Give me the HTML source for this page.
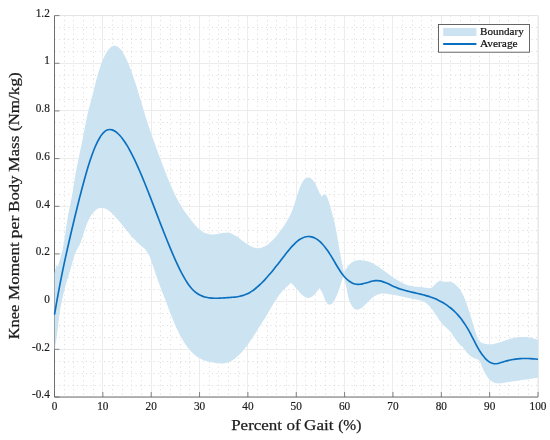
<!DOCTYPE html>
<html><head><meta charset="utf-8"><title>Knee Moment per Body Mass</title>
<style>
html,body{margin:0;padding:0;background:#fff;}
body{width:550px;height:440px;overflow:hidden;font-family:"Liberation Serif",serif;}
svg{display:block}
.mn{stroke:#dddddd;stroke-width:1;stroke-dasharray:1.1 3.4;}
.mj{stroke:#ececec;stroke-width:1;}
.tk{stroke:#666;stroke-width:0.8;}
.tl{font-family:"Liberation Serif",serif;font-size:12px;fill:#1c1c1c;stroke:#1c1c1c;stroke-width:0.2;}
.ax{font-family:"Liberation Serif",serif;font-size:15px;fill:#1c1c1c;stroke:#1c1c1c;stroke-width:0.25;}
.lg{font-family:"Liberation Serif",serif;font-size:10.8px;fill:#111;stroke:#111;stroke-width:0.2;}
</style></head><body>
<svg width="550" height="440" viewBox="0 0 550 440">
<rect x="0" y="0" width="550" height="440" fill="#ffffff"/>
<g shape-rendering="auto">
<line x1="64.50" y1="15.60" x2="64.50" y2="397.00" class="mn"/>
<line x1="73.50" y1="15.60" x2="73.50" y2="397.00" class="mn"/>
<line x1="83.50" y1="15.60" x2="83.50" y2="397.00" class="mn"/>
<line x1="93.50" y1="15.60" x2="93.50" y2="397.00" class="mn"/>
<line x1="112.50" y1="15.60" x2="112.50" y2="397.00" class="mn"/>
<line x1="122.50" y1="15.60" x2="122.50" y2="397.00" class="mn"/>
<line x1="131.50" y1="15.60" x2="131.50" y2="397.00" class="mn"/>
<line x1="141.50" y1="15.60" x2="141.50" y2="397.00" class="mn"/>
<line x1="160.50" y1="15.60" x2="160.50" y2="397.00" class="mn"/>
<line x1="170.50" y1="15.60" x2="170.50" y2="397.00" class="mn"/>
<line x1="180.50" y1="15.60" x2="180.50" y2="397.00" class="mn"/>
<line x1="189.50" y1="15.60" x2="189.50" y2="397.00" class="mn"/>
<line x1="209.50" y1="15.60" x2="209.50" y2="397.00" class="mn"/>
<line x1="218.50" y1="15.60" x2="218.50" y2="397.00" class="mn"/>
<line x1="228.50" y1="15.60" x2="228.50" y2="397.00" class="mn"/>
<line x1="238.50" y1="15.60" x2="238.50" y2="397.00" class="mn"/>
<line x1="257.50" y1="15.60" x2="257.50" y2="397.00" class="mn"/>
<line x1="267.50" y1="15.60" x2="267.50" y2="397.00" class="mn"/>
<line x1="276.50" y1="15.60" x2="276.50" y2="397.00" class="mn"/>
<line x1="286.50" y1="15.60" x2="286.50" y2="397.00" class="mn"/>
<line x1="305.50" y1="15.60" x2="305.50" y2="397.00" class="mn"/>
<line x1="315.50" y1="15.60" x2="315.50" y2="397.00" class="mn"/>
<line x1="325.50" y1="15.60" x2="325.50" y2="397.00" class="mn"/>
<line x1="334.50" y1="15.60" x2="334.50" y2="397.00" class="mn"/>
<line x1="354.50" y1="15.60" x2="354.50" y2="397.00" class="mn"/>
<line x1="363.50" y1="15.60" x2="363.50" y2="397.00" class="mn"/>
<line x1="373.50" y1="15.60" x2="373.50" y2="397.00" class="mn"/>
<line x1="383.50" y1="15.60" x2="383.50" y2="397.00" class="mn"/>
<line x1="402.50" y1="15.60" x2="402.50" y2="397.00" class="mn"/>
<line x1="412.50" y1="15.60" x2="412.50" y2="397.00" class="mn"/>
<line x1="421.50" y1="15.60" x2="421.50" y2="397.00" class="mn"/>
<line x1="431.50" y1="15.60" x2="431.50" y2="397.00" class="mn"/>
<line x1="450.50" y1="15.60" x2="450.50" y2="397.00" class="mn"/>
<line x1="460.50" y1="15.60" x2="460.50" y2="397.00" class="mn"/>
<line x1="470.50" y1="15.60" x2="470.50" y2="397.00" class="mn"/>
<line x1="479.50" y1="15.60" x2="479.50" y2="397.00" class="mn"/>
<line x1="499.50" y1="15.60" x2="499.50" y2="397.00" class="mn"/>
<line x1="508.50" y1="15.60" x2="508.50" y2="397.00" class="mn"/>
<line x1="518.50" y1="15.60" x2="518.50" y2="397.00" class="mn"/>
<line x1="528.50" y1="15.60" x2="528.50" y2="397.00" class="mn"/>
<line x1="54.50" y1="385.50" x2="538.00" y2="385.50" class="mn"/>
<line x1="54.50" y1="373.50" x2="538.00" y2="373.50" class="mn"/>
<line x1="54.50" y1="361.50" x2="538.00" y2="361.50" class="mn"/>
<line x1="54.50" y1="337.50" x2="538.00" y2="337.50" class="mn"/>
<line x1="54.50" y1="325.50" x2="538.00" y2="325.50" class="mn"/>
<line x1="54.50" y1="313.50" x2="538.00" y2="313.50" class="mn"/>
<line x1="54.50" y1="289.50" x2="538.00" y2="289.50" class="mn"/>
<line x1="54.50" y1="277.50" x2="538.00" y2="277.50" class="mn"/>
<line x1="54.50" y1="265.50" x2="538.00" y2="265.50" class="mn"/>
<line x1="54.50" y1="242.50" x2="538.00" y2="242.50" class="mn"/>
<line x1="54.50" y1="230.50" x2="538.00" y2="230.50" class="mn"/>
<line x1="54.50" y1="218.50" x2="538.00" y2="218.50" class="mn"/>
<line x1="54.50" y1="194.50" x2="538.00" y2="194.50" class="mn"/>
<line x1="54.50" y1="182.50" x2="538.00" y2="182.50" class="mn"/>
<line x1="54.50" y1="170.50" x2="538.00" y2="170.50" class="mn"/>
<line x1="54.50" y1="146.50" x2="538.00" y2="146.50" class="mn"/>
<line x1="54.50" y1="134.50" x2="538.00" y2="134.50" class="mn"/>
<line x1="54.50" y1="122.50" x2="538.00" y2="122.50" class="mn"/>
<line x1="54.50" y1="99.50" x2="538.00" y2="99.50" class="mn"/>
<line x1="54.50" y1="87.50" x2="538.00" y2="87.50" class="mn"/>
<line x1="54.50" y1="75.50" x2="538.00" y2="75.50" class="mn"/>
<line x1="54.50" y1="51.50" x2="538.00" y2="51.50" class="mn"/>
<line x1="54.50" y1="39.50" x2="538.00" y2="39.50" class="mn"/>
<line x1="54.50" y1="27.50" x2="538.00" y2="27.50" class="mn"/>
<line x1="102.50" y1="15.60" x2="102.50" y2="397.00" class="mj"/>
<line x1="151.50" y1="15.60" x2="151.50" y2="397.00" class="mj"/>
<line x1="199.50" y1="15.60" x2="199.50" y2="397.00" class="mj"/>
<line x1="247.50" y1="15.60" x2="247.50" y2="397.00" class="mj"/>
<line x1="296.50" y1="15.60" x2="296.50" y2="397.00" class="mj"/>
<line x1="344.50" y1="15.60" x2="344.50" y2="397.00" class="mj"/>
<line x1="392.50" y1="15.60" x2="392.50" y2="397.00" class="mj"/>
<line x1="441.50" y1="15.60" x2="441.50" y2="397.00" class="mj"/>
<line x1="489.50" y1="15.60" x2="489.50" y2="397.00" class="mj"/>
<line x1="538.50" y1="15.60" x2="538.50" y2="397.00" class="mj"/>
<line x1="54.50" y1="397.50" x2="538.00" y2="397.50" class="mj"/>
<line x1="54.50" y1="349.50" x2="538.00" y2="349.50" class="mj"/>
<line x1="54.50" y1="301.50" x2="538.00" y2="301.50" class="mj"/>
<line x1="54.50" y1="253.50" x2="538.00" y2="253.50" class="mj"/>
<line x1="54.50" y1="206.50" x2="538.00" y2="206.50" class="mj"/>
<line x1="54.50" y1="158.50" x2="538.00" y2="158.50" class="mj"/>
<line x1="54.50" y1="110.50" x2="538.00" y2="110.50" class="mj"/>
<line x1="54.50" y1="63.50" x2="538.00" y2="63.50" class="mj"/>
<line x1="54.50" y1="15.50" x2="538.00" y2="15.50" class="mj"/>
</g>
<line x1="54.5" y1="15.6" x2="538.0" y2="15.6" stroke="#e4e4e4" stroke-width="1"/>
<line x1="538.0" y1="15.6" x2="538.0" y2="397.0" stroke="#e4e4e4" stroke-width="1"/>
<line x1="54.5" y1="15.6" x2="54.5" y2="397.0" stroke="#606060" stroke-width="0.9"/>
<line x1="54.5" y1="397.0" x2="538.0" y2="397.0" stroke="#606060" stroke-width="0.9"/>
<line x1="54.50" y1="397.00" x2="54.50" y2="392.00" class="tk"/>
<text transform="translate(54.50 409.9) scale(0.94 1)" text-anchor="middle" class="tl">0</text>
<line x1="102.85" y1="397.00" x2="102.85" y2="392.00" class="tk"/>
<text transform="translate(102.85 409.9) scale(0.94 1)" text-anchor="middle" class="tl">10</text>
<line x1="151.20" y1="397.00" x2="151.20" y2="392.00" class="tk"/>
<text transform="translate(151.20 409.9) scale(0.94 1)" text-anchor="middle" class="tl">20</text>
<line x1="199.55" y1="397.00" x2="199.55" y2="392.00" class="tk"/>
<text transform="translate(199.55 409.9) scale(0.94 1)" text-anchor="middle" class="tl">30</text>
<line x1="247.90" y1="397.00" x2="247.90" y2="392.00" class="tk"/>
<text transform="translate(247.90 409.9) scale(0.94 1)" text-anchor="middle" class="tl">40</text>
<line x1="296.25" y1="397.00" x2="296.25" y2="392.00" class="tk"/>
<text transform="translate(296.25 409.9) scale(0.94 1)" text-anchor="middle" class="tl">50</text>
<line x1="344.60" y1="397.00" x2="344.60" y2="392.00" class="tk"/>
<text transform="translate(344.60 409.9) scale(0.94 1)" text-anchor="middle" class="tl">60</text>
<line x1="392.95" y1="397.00" x2="392.95" y2="392.00" class="tk"/>
<text transform="translate(392.95 409.9) scale(0.94 1)" text-anchor="middle" class="tl">70</text>
<line x1="441.30" y1="397.00" x2="441.30" y2="392.00" class="tk"/>
<text transform="translate(441.30 409.9) scale(0.94 1)" text-anchor="middle" class="tl">80</text>
<line x1="489.65" y1="397.00" x2="489.65" y2="392.00" class="tk"/>
<text transform="translate(489.65 409.9) scale(0.94 1)" text-anchor="middle" class="tl">90</text>
<line x1="538.00" y1="397.00" x2="538.00" y2="392.00" class="tk"/>
<text transform="translate(538.00 409.9) scale(0.94 1)" text-anchor="middle" class="tl">100</text>
<line x1="54.50" y1="397.00" x2="59.50" y2="397.00" class="tk"/>
<text transform="translate(49.8 398.20) scale(0.94 1)" text-anchor="end" class="tl">-0.4</text>
<line x1="54.50" y1="349.32" x2="59.50" y2="349.32" class="tk"/>
<text transform="translate(49.8 350.52) scale(0.94 1)" text-anchor="end" class="tl">-0.2</text>
<line x1="54.50" y1="301.65" x2="59.50" y2="301.65" class="tk"/>
<text transform="translate(49.8 302.85) scale(0.94 1)" text-anchor="end" class="tl">0</text>
<line x1="54.50" y1="253.97" x2="59.50" y2="253.97" class="tk"/>
<text transform="translate(49.8 255.17) scale(0.94 1)" text-anchor="end" class="tl">0.2</text>
<line x1="54.50" y1="206.30" x2="59.50" y2="206.30" class="tk"/>
<text transform="translate(49.8 207.50) scale(0.94 1)" text-anchor="end" class="tl">0.4</text>
<line x1="54.50" y1="158.62" x2="59.50" y2="158.62" class="tk"/>
<text transform="translate(49.8 159.82) scale(0.94 1)" text-anchor="end" class="tl">0.6</text>
<line x1="54.50" y1="110.95" x2="59.50" y2="110.95" class="tk"/>
<text transform="translate(49.8 112.15) scale(0.94 1)" text-anchor="end" class="tl">0.8</text>
<line x1="54.50" y1="63.27" x2="59.50" y2="63.27" class="tk"/>
<text transform="translate(49.8 64.47) scale(0.94 1)" text-anchor="end" class="tl">1</text>
<line x1="54.50" y1="15.60" x2="59.50" y2="15.60" class="tk"/>
<text transform="translate(49.8 16.80) scale(0.94 1)" text-anchor="end" class="tl">1.2</text>
<path d="M54.50 273.50 C54.67 272.67 55.12 270.00 55.50 268.50 C55.88 267.00 56.58 265.17 56.80 264.50 C56.95 264.88 57.55 266.42 57.70 266.80 C58.12 265.40 59.37 261.30 60.21 258.38 C61.05 255.47 61.89 253.40 62.72 249.31 C63.56 245.22 64.40 239.22 65.24 233.85 C66.07 228.48 66.91 221.93 67.75 217.07 C68.59 212.22 69.42 209.02 70.26 204.72 C71.10 200.42 71.94 196.21 72.77 191.30 C73.61 186.38 74.45 180.08 75.29 175.22 C76.12 170.36 76.96 166.30 77.80 162.13 C78.64 157.96 79.47 154.24 80.31 150.21 C81.15 146.19 81.99 142.15 82.82 137.97 C83.66 133.78 84.50 129.23 85.34 125.09 C86.17 120.94 87.01 116.75 87.85 113.09 C88.69 109.43 89.52 106.35 90.36 103.13 C91.20 99.91 92.04 97.04 92.87 93.80 C93.71 90.56 94.55 86.93 95.39 83.68 C96.22 80.43 97.06 77.22 97.90 74.32 C98.74 71.42 99.57 68.74 100.41 66.28 C101.25 63.83 102.09 61.59 102.92 59.58 C103.76 57.56 104.60 55.77 105.44 54.20 C106.27 52.63 107.11 51.27 107.95 50.14 C108.79 49.00 109.62 48.09 110.46 47.39 C111.30 46.69 112.13 46.20 112.97 45.93 C113.81 45.67 114.65 45.61 115.48 45.77 C116.32 45.93 117.16 46.31 118.00 46.90 C118.83 47.48 119.67 48.28 120.51 49.26 C121.35 50.24 122.18 51.43 123.02 52.78 C123.86 54.12 124.70 55.65 125.53 57.32 C126.37 58.99 127.21 60.83 128.05 62.79 C128.88 64.74 129.72 66.85 130.56 69.06 C131.40 71.27 132.23 73.61 133.07 76.03 C133.91 78.46 134.75 81.00 135.58 83.60 C136.42 86.21 137.26 88.92 138.10 91.67 C138.93 94.42 139.77 97.28 140.61 100.10 C141.45 102.92 142.28 105.80 143.12 108.58 C143.96 111.35 144.80 114.07 145.63 116.73 C146.47 119.38 147.31 121.96 148.15 124.50 C148.98 127.04 149.82 129.51 150.66 131.96 C151.50 134.40 152.33 136.80 153.17 139.17 C154.01 141.54 154.85 143.87 155.68 146.20 C156.52 148.52 157.36 150.81 158.20 153.10 C159.03 155.39 159.87 157.66 160.71 159.91 C161.55 162.16 162.38 164.39 163.22 166.59 C164.06 168.78 164.89 170.95 165.73 173.08 C166.57 175.20 167.41 177.30 168.24 179.33 C169.08 181.37 169.92 183.37 170.76 185.31 C171.59 187.24 172.43 189.13 173.27 190.95 C174.11 192.77 174.94 194.53 175.78 196.21 C176.62 197.89 177.46 199.51 178.29 201.04 C179.13 202.58 179.97 204.03 180.81 205.43 C181.64 206.82 182.48 208.14 183.32 209.43 C184.16 210.71 184.99 211.93 185.83 213.12 C186.67 214.31 187.51 215.46 188.34 216.59 C189.18 217.72 190.02 218.83 190.86 219.91 C191.69 220.99 192.53 222.06 193.37 223.07 C194.21 224.07 195.04 225.05 195.88 225.96 C196.72 226.86 197.56 227.71 198.39 228.48 C199.23 229.24 200.07 229.93 200.91 230.54 C201.74 231.15 202.58 231.67 203.42 232.13 C204.26 232.59 205.09 232.97 205.93 233.29 C206.77 233.60 207.61 233.85 208.44 234.04 C209.28 234.23 210.12 234.35 210.96 234.42 C211.79 234.49 212.63 234.49 213.47 234.45 C214.31 234.42 215.14 234.31 215.98 234.19 C216.82 234.07 217.65 233.90 218.49 233.74 C219.33 233.58 220.17 233.39 221.00 233.24 C221.84 233.09 222.68 232.93 223.52 232.83 C224.35 232.73 225.19 232.64 226.03 232.65 C226.87 232.65 227.70 232.69 228.54 232.83 C229.38 232.98 230.22 233.21 231.05 233.51 C231.89 233.81 232.73 234.21 233.57 234.64 C234.40 235.08 235.24 235.58 236.08 236.12 C236.92 236.65 237.75 237.24 238.59 237.84 C239.43 238.44 240.27 239.08 241.10 239.71 C241.94 240.33 242.78 240.99 243.62 241.61 C244.45 242.23 245.29 242.87 246.13 243.45 C246.97 244.04 247.80 244.61 248.64 245.12 C249.48 245.64 250.32 246.12 251.15 246.53 C251.99 246.93 252.83 247.29 253.67 247.56 C254.50 247.82 255.34 248.01 256.18 248.11 C257.02 248.21 257.85 248.22 258.69 248.15 C259.53 248.08 260.37 247.92 261.20 247.69 C262.04 247.47 262.88 247.15 263.72 246.78 C264.55 246.40 265.39 245.94 266.23 245.42 C267.07 244.90 267.90 244.30 268.74 243.65 C269.58 243.00 270.41 242.28 271.25 241.50 C272.09 240.72 272.93 239.88 273.76 238.99 C274.60 238.10 275.44 237.15 276.28 236.16 C277.11 235.16 277.95 234.11 278.79 233.02 C279.63 231.92 280.46 230.78 281.30 229.60 C282.14 228.42 282.98 227.20 283.81 225.94 C284.65 224.68 285.49 223.41 286.33 222.04 C287.16 220.67 288.00 219.29 288.84 217.70 C289.68 216.11 290.51 214.44 291.35 212.49 C292.19 210.53 293.03 208.40 293.86 205.97 C294.70 203.54 295.54 200.59 296.38 197.93 C297.21 195.26 298.05 192.29 298.89 189.96 C299.73 187.63 300.56 185.60 301.40 183.93 C302.24 182.26 303.08 180.97 303.91 179.96 C304.75 178.95 305.59 178.28 306.43 177.88 C307.26 177.47 308.10 177.38 308.94 177.52 C309.78 177.67 310.61 178.08 311.45 178.74 C312.29 179.40 313.13 180.29 313.96 181.47 C314.80 182.64 315.64 184.08 316.48 185.80 C317.31 187.51 318.15 189.98 318.99 191.76 C319.83 193.54 321.08 195.71 321.50 196.50 C321.92 196.18 323.17 194.62 324.00 194.55 C324.83 194.48 325.67 194.79 326.50 196.07 C327.33 197.35 328.17 199.71 329.00 202.23 C329.83 204.76 330.67 208.24 331.50 211.25 C332.33 214.26 333.17 216.77 334.00 220.28 C334.83 223.78 335.67 227.83 336.50 232.29 C337.33 236.74 338.17 242.28 339.00 246.99 C339.83 251.71 340.67 256.33 341.50 260.58 C342.33 264.83 343.58 270.51 344.00 272.50 C344.42 271.79 345.67 269.49 346.50 268.25 C347.33 267.01 348.17 265.97 349.00 265.06 C349.83 264.15 350.67 263.41 351.50 262.78 C352.33 262.16 353.17 261.68 354.00 261.29 C354.83 260.91 355.67 260.65 356.50 260.46 C357.33 260.26 358.17 260.18 359.00 260.13 C359.83 260.09 360.67 260.13 361.50 260.19 C362.33 260.25 363.17 260.37 364.00 260.51 C364.83 260.65 365.67 260.83 366.50 261.04 C367.33 261.26 368.17 261.51 369.00 261.80 C369.83 262.09 370.67 262.41 371.50 262.78 C372.33 263.14 373.17 263.54 374.00 263.98 C374.83 264.41 375.67 264.89 376.50 265.40 C377.33 265.91 378.17 266.47 379.00 267.04 C379.83 267.62 380.67 268.23 381.50 268.85 C382.33 269.46 383.17 270.10 384.00 270.73 C384.83 271.36 385.67 272.00 386.50 272.62 C387.33 273.24 388.17 273.87 389.00 274.47 C389.83 275.08 390.67 275.68 391.50 276.26 C392.33 276.85 393.17 277.42 394.00 277.98 C394.83 278.53 395.67 279.07 396.50 279.59 C397.33 280.11 398.17 280.61 399.00 281.09 C399.83 281.56 400.67 282.02 401.50 282.44 C402.33 282.87 403.17 283.27 404.00 283.65 C404.83 284.02 405.67 284.36 406.50 284.67 C407.33 284.98 408.17 285.26 409.00 285.50 C409.83 285.74 410.67 285.94 411.50 286.12 C412.33 286.29 413.17 286.43 414.00 286.55 C414.83 286.67 415.67 286.76 416.50 286.85 C417.33 286.93 418.17 287.00 419.00 287.07 C419.83 287.14 420.67 287.19 421.50 287.26 C422.33 287.34 423.17 287.41 424.00 287.50 C424.83 287.59 425.67 287.69 426.50 287.83 C427.33 287.96 428.58 288.22 429.00 288.30 C429.50 288.17 431.08 288.05 432.00 287.50 C432.92 286.95 433.67 285.83 434.50 285.00 C435.33 284.17 436.08 283.25 437.00 282.50 C437.92 281.75 439.50 280.83 440.00 280.50 C440.43 280.69 441.71 281.40 442.56 281.62 C443.42 281.85 444.27 281.82 445.12 281.84 C445.98 281.86 446.83 281.72 447.69 281.72 C448.54 281.73 449.40 281.69 450.25 281.86 C451.10 282.02 451.96 282.30 452.81 282.74 C453.67 283.17 454.52 283.75 455.38 284.47 C456.23 285.18 457.08 286.02 457.94 287.03 C458.79 288.04 459.65 289.17 460.50 290.52 C461.35 291.87 462.21 293.37 463.06 295.11 C463.92 296.85 464.77 298.78 465.62 300.96 C466.48 303.13 467.33 305.59 468.19 308.16 C469.04 310.72 469.90 313.54 470.75 316.35 C471.60 319.16 472.46 322.18 473.31 325.01 C474.17 327.83 475.02 330.87 475.88 333.32 C476.73 335.77 477.58 338.19 478.44 339.72 C479.29 341.25 480.57 342.04 481.00 342.50 C481.43 342.66 482.73 343.22 483.59 343.48 C484.45 343.74 485.32 343.94 486.18 344.08 C487.05 344.22 487.91 344.29 488.77 344.32 C489.64 344.35 490.50 344.32 491.36 344.25 C492.23 344.18 493.09 344.06 493.95 343.91 C494.82 343.75 495.68 343.54 496.55 343.32 C497.41 343.10 498.27 342.83 499.14 342.56 C500.00 342.28 500.86 341.98 501.73 341.68 C502.59 341.38 503.45 341.07 504.32 340.76 C505.18 340.46 506.05 340.15 506.91 339.86 C507.77 339.57 508.64 339.30 509.50 339.04 C510.36 338.79 511.23 338.55 512.09 338.34 C512.95 338.13 513.82 337.94 514.68 337.77 C515.55 337.60 516.41 337.45 517.27 337.33 C518.14 337.21 519.00 337.12 519.86 337.05 C520.73 336.98 521.59 336.94 522.45 336.92 C523.32 336.91 524.18 336.92 525.05 336.97 C525.91 337.01 526.77 337.09 527.64 337.19 C528.50 337.30 529.36 337.44 530.23 337.61 C531.09 337.78 531.95 337.98 532.82 338.22 C533.68 338.46 534.55 338.74 535.41 339.05 C536.27 339.36 537.57 339.93 538.00 340.10 L538.00 377.70 C537.58 377.77 536.33 377.97 535.49 378.10 C534.66 378.22 533.82 378.35 532.98 378.47 C532.15 378.59 531.31 378.71 530.47 378.83 C529.64 378.95 528.80 379.06 527.97 379.18 C527.13 379.29 526.29 379.41 525.46 379.52 C524.62 379.63 523.78 379.75 522.95 379.86 C522.11 379.97 521.28 380.09 520.44 380.20 C519.60 380.32 518.77 380.43 517.93 380.55 C517.09 380.67 516.26 380.79 515.42 380.91 C514.59 381.03 513.75 381.16 512.91 381.29 C512.08 381.42 511.24 381.55 510.40 381.68 C509.57 381.82 508.73 381.96 507.90 382.10 C507.06 382.25 506.22 382.40 505.39 382.55 C504.55 382.70 503.71 382.88 502.88 383.02 C502.04 383.15 501.21 383.30 500.37 383.37 C499.53 383.44 498.70 383.50 497.86 383.45 C497.02 383.40 496.19 383.31 495.35 383.08 C494.52 382.85 493.68 382.55 492.84 382.09 C492.01 381.63 491.17 381.07 490.33 380.32 C489.50 379.57 488.66 378.69 487.83 377.60 C486.99 376.50 486.15 375.25 485.32 373.75 C484.48 372.25 483.64 370.56 482.81 368.60 C481.97 366.65 480.72 363.10 480.30 362.00 C479.88 361.59 478.61 360.13 477.77 359.55 C476.93 358.98 476.09 358.89 475.24 358.54 C474.40 358.18 473.56 357.88 472.72 357.41 C471.87 356.94 471.03 356.39 470.19 355.72 C469.35 355.05 468.50 354.28 467.66 353.38 C466.82 352.47 465.98 351.35 465.13 350.30 C464.29 349.25 463.45 348.00 462.61 347.07 C461.76 346.14 460.92 345.56 460.08 344.72 C459.24 343.88 458.39 343.07 457.55 342.03 C456.71 340.98 455.86 339.69 455.02 338.46 C454.18 337.23 453.34 335.85 452.49 334.65 C451.65 333.45 450.81 332.25 449.97 331.27 C449.12 330.28 448.28 329.51 447.44 328.72 C446.60 327.93 445.75 327.32 444.91 326.53 C444.07 325.74 443.23 324.96 442.38 323.99 C441.54 323.03 440.70 321.90 439.86 320.74 C439.01 319.58 438.17 318.28 437.33 317.03 C436.49 315.77 435.64 314.44 434.80 313.20 C433.96 311.97 433.11 310.72 432.27 309.60 C431.43 308.48 430.59 307.41 429.74 306.49 C428.90 305.57 428.06 304.76 427.22 304.06 C426.37 303.37 425.53 302.80 424.69 302.31 C423.85 301.81 423.00 301.42 422.16 301.07 C421.32 300.73 420.48 300.47 419.63 300.23 C418.79 299.99 417.95 299.82 417.11 299.63 C416.26 299.45 415.42 299.30 414.58 299.14 C413.74 298.98 412.89 298.82 412.05 298.65 C411.21 298.48 410.36 298.32 409.52 298.15 C408.68 297.98 407.84 297.81 406.99 297.64 C406.15 297.47 405.31 297.30 404.47 297.13 C403.62 296.96 402.78 296.79 401.94 296.62 C401.10 296.45 400.25 296.27 399.41 296.10 C398.57 295.93 397.73 295.76 396.88 295.60 C396.04 295.43 395.20 295.26 394.36 295.10 C393.51 294.93 392.67 294.77 391.83 294.60 C390.99 294.44 390.14 294.28 389.30 294.13 C388.46 293.98 387.61 293.82 386.77 293.71 C385.93 293.60 385.09 293.50 384.24 293.47 C383.40 293.44 382.56 293.45 381.72 293.55 C380.87 293.65 380.03 293.81 379.19 294.07 C378.35 294.33 377.50 294.68 376.66 295.10 C375.82 295.52 374.98 296.03 374.13 296.59 C373.29 297.15 372.45 297.79 371.61 298.48 C370.76 299.17 369.92 299.93 369.08 300.72 C368.24 301.51 367.39 302.39 366.55 303.23 C365.71 304.07 364.86 304.99 364.02 305.77 C363.18 306.56 362.34 307.35 361.49 307.95 C360.65 308.55 359.81 309.08 358.97 309.36 C358.12 309.63 357.28 309.78 356.44 309.60 C355.60 309.42 354.75 309.05 353.91 308.28 C353.07 307.51 352.23 306.50 351.38 304.99 C350.54 303.48 349.70 302.15 348.86 299.24 C348.01 296.32 347.17 291.65 346.33 287.53 C345.49 283.40 344.22 276.67 343.80 274.50 C343.36 275.94 342.04 280.37 341.16 283.12 C340.27 285.87 339.39 288.59 338.51 291.00 C337.63 293.41 336.75 295.70 335.87 297.58 C334.99 299.46 334.10 301.12 333.22 302.29 C332.34 303.47 331.46 304.31 330.58 304.61 C329.70 304.91 328.81 304.80 327.93 304.10 C327.05 303.40 326.17 302.14 325.29 300.39 C324.41 298.64 323.53 295.69 322.64 293.62 C321.76 291.56 320.44 288.94 320.00 288.00 C319.56 288.49 318.24 289.88 317.36 290.91 C316.48 291.94 315.61 293.23 314.73 294.18 C313.85 295.12 312.97 295.97 312.09 296.57 C311.21 297.18 310.33 297.63 309.45 297.82 C308.58 298.01 307.70 297.95 306.82 297.71 C305.94 297.48 305.06 297.00 304.18 296.42 C303.30 295.85 302.42 295.07 301.55 294.25 C300.67 293.43 299.79 292.46 298.91 291.50 C298.03 290.53 297.15 289.47 296.27 288.47 C295.39 287.46 294.52 286.41 293.64 285.47 C292.76 284.52 291.44 283.24 291.00 282.80 C290.58 283.19 289.32 284.35 288.49 285.14 C287.65 285.92 286.81 286.70 285.97 287.51 C285.13 288.33 284.29 289.15 283.46 290.04 C282.62 290.92 281.78 291.83 280.94 292.82 C280.10 293.81 279.26 294.84 278.43 295.97 C277.59 297.09 276.75 298.29 275.91 299.58 C275.07 300.87 274.23 302.28 273.40 303.71 C272.56 305.13 271.72 306.64 270.88 308.11 C270.04 309.57 269.20 311.08 268.37 312.50 C267.53 313.93 266.69 315.31 265.85 316.66 C265.01 318.01 264.17 319.30 263.34 320.61 C262.50 321.93 261.66 323.21 260.82 324.53 C259.98 325.84 259.14 327.18 258.31 328.51 C257.47 329.84 256.63 331.18 255.79 332.51 C254.95 333.84 254.11 335.17 253.28 336.47 C252.44 337.77 251.60 339.06 250.76 340.31 C249.92 341.56 249.09 342.78 248.25 343.96 C247.41 345.13 246.57 346.27 245.73 347.35 C244.89 348.44 244.06 349.47 243.22 350.46 C242.38 351.44 241.54 352.38 240.70 353.26 C239.86 354.15 239.03 354.98 238.19 355.75 C237.35 356.53 236.51 357.26 235.67 357.92 C234.83 358.59 234.00 359.20 233.16 359.75 C232.32 360.30 231.48 360.80 230.64 361.23 C229.80 361.66 228.97 362.04 228.13 362.35 C227.29 362.66 226.45 362.91 225.61 363.10 C224.77 363.28 223.94 363.40 223.10 363.47 C222.26 363.54 221.42 363.54 220.58 363.51 C219.74 363.49 218.91 363.41 218.07 363.32 C217.23 363.23 216.39 363.10 215.55 362.98 C214.71 362.85 213.88 362.71 213.04 362.57 C212.20 362.42 211.36 362.28 210.52 362.11 C209.69 361.95 208.85 361.77 208.01 361.56 C207.17 361.36 206.33 361.13 205.49 360.86 C204.66 360.59 203.82 360.30 202.98 359.95 C202.14 359.60 201.30 359.21 200.46 358.77 C199.63 358.32 198.79 357.83 197.95 357.28 C197.11 356.72 196.27 356.12 195.43 355.45 C194.60 354.78 193.76 354.05 192.92 353.25 C192.08 352.45 191.24 351.59 190.40 350.66 C189.57 349.73 188.73 348.73 187.89 347.65 C187.05 346.56 186.21 345.41 185.37 344.18 C184.54 342.94 183.70 341.63 182.86 340.23 C182.02 338.83 181.18 337.35 180.34 335.79 C179.51 334.22 178.67 332.58 177.83 330.85 C176.99 329.12 176.15 327.30 175.31 325.40 C174.48 323.51 173.64 321.53 172.80 319.46 C171.96 317.40 171.12 315.23 170.29 313.01 C169.45 310.79 168.61 308.41 167.77 306.15 C166.93 303.89 166.09 301.61 165.26 299.45 C164.42 297.28 163.58 295.29 162.74 293.16 C161.90 291.03 161.06 288.91 160.23 286.67 C159.39 284.42 158.55 282.08 157.71 279.71 C156.87 277.34 156.03 274.88 155.20 272.44 C154.36 269.99 153.52 267.43 152.68 265.02 C151.84 262.61 151.00 260.03 150.17 257.97 C149.33 255.90 148.49 254.08 147.65 252.63 C146.81 251.18 145.97 250.21 145.14 249.27 C144.30 248.33 143.46 247.72 142.62 246.99 C141.78 246.27 140.94 245.64 140.11 244.91 C139.27 244.18 138.43 243.41 137.59 242.60 C136.75 241.80 135.91 240.96 135.08 240.09 C134.24 239.23 133.40 238.33 132.56 237.41 C131.72 236.49 130.89 235.54 130.05 234.57 C129.21 233.61 128.37 232.62 127.53 231.62 C126.69 230.62 125.86 229.60 125.02 228.58 C124.18 227.55 123.34 226.51 122.50 225.47 C121.66 224.44 120.83 223.38 119.99 222.36 C119.15 221.33 118.31 220.30 117.47 219.32 C116.63 218.33 115.80 217.36 114.96 216.45 C114.12 215.54 113.28 214.65 112.44 213.84 C111.60 213.03 110.77 212.27 109.93 211.60 C109.09 210.92 108.25 210.31 107.41 209.80 C106.57 209.30 105.74 208.86 104.90 208.56 C104.06 208.25 103.22 208.03 102.38 207.95 C101.54 207.87 100.71 207.90 99.87 208.08 C99.03 208.26 98.19 208.57 97.35 209.04 C96.51 209.52 95.68 210.13 94.84 210.93 C94.00 211.73 93.16 212.68 92.32 213.83 C91.49 214.99 90.65 216.31 89.81 217.85 C88.97 219.39 88.13 221.10 87.29 223.09 C86.46 225.07 85.62 227.32 84.78 229.77 C83.94 232.21 83.10 235.29 82.26 237.74 C81.43 240.20 80.59 242.60 79.75 244.48 C78.91 246.37 78.07 247.35 77.23 249.07 C76.40 250.78 75.56 252.42 74.72 254.79 C73.88 257.16 73.04 260.46 72.20 263.28 C71.37 266.11 70.53 268.95 69.69 271.75 C68.85 274.55 68.01 277.22 67.17 280.08 C66.34 282.94 65.50 285.70 64.66 288.93 C63.82 292.16 62.98 295.44 62.14 299.44 C61.31 303.45 60.47 307.21 59.63 312.97 C58.79 318.73 57.95 327.65 57.11 333.99 C56.28 340.33 55.02 348.17 54.60 351.00 Z" fill="#cce3f2" stroke="none"/>
<path d="M54.50 314.70 C54.92 312.28 56.17 304.87 57.01 300.19 C57.84 295.51 58.68 291.01 59.51 286.63 C60.35 282.25 61.18 278.03 62.02 273.91 C62.85 269.79 63.69 265.80 64.52 261.89 C65.36 257.98 66.19 254.19 67.03 250.45 C67.86 246.71 68.70 243.07 69.53 239.46 C70.37 235.84 71.20 232.31 72.04 228.78 C72.87 225.25 73.71 221.77 74.54 218.30 C75.38 214.83 76.21 211.38 77.05 207.98 C77.88 204.58 78.72 201.21 79.55 197.91 C80.39 194.62 81.22 191.36 82.06 188.20 C82.89 185.03 83.73 181.92 84.56 178.92 C85.40 175.92 86.23 173.00 87.07 170.19 C87.90 167.39 88.74 164.68 89.57 162.11 C90.41 159.54 91.24 157.08 92.08 154.77 C92.91 152.46 93.75 150.28 94.58 148.26 C95.42 146.24 96.25 144.36 97.09 142.64 C97.92 140.92 98.76 139.36 99.59 137.96 C100.43 136.57 101.26 135.34 102.10 134.29 C102.93 133.24 103.77 132.36 104.60 131.66 C105.44 130.96 106.27 130.46 107.11 130.10 C107.94 129.75 108.78 129.57 109.61 129.53 C110.45 129.48 111.28 129.60 112.12 129.84 C112.95 130.08 113.79 130.47 114.62 130.96 C115.46 131.45 116.29 132.07 117.13 132.78 C117.96 133.49 118.80 134.32 119.63 135.22 C120.47 136.13 121.30 137.13 122.14 138.21 C122.97 139.29 123.81 140.46 124.65 141.70 C125.48 142.94 126.32 144.26 127.15 145.65 C127.99 147.04 128.82 148.50 129.66 150.03 C130.49 151.55 131.33 153.14 132.16 154.79 C133.00 156.43 133.83 158.14 134.67 159.90 C135.50 161.65 136.34 163.46 137.17 165.31 C138.01 167.16 138.84 169.06 139.68 171.00 C140.51 172.93 141.35 174.91 142.18 176.91 C143.02 178.92 143.85 180.96 144.69 183.02 C145.52 185.09 146.36 187.18 147.19 189.29 C148.03 191.39 148.86 193.53 149.70 195.67 C150.53 197.81 151.37 199.96 152.20 202.13 C153.04 204.29 153.87 206.46 154.71 208.64 C155.54 210.81 156.38 212.99 157.21 215.16 C158.05 217.34 158.88 219.51 159.72 221.68 C160.55 223.84 161.39 226.00 162.22 228.14 C163.06 230.28 163.89 232.42 164.73 234.53 C165.56 236.64 166.40 238.73 167.23 240.80 C168.07 242.87 168.90 244.91 169.74 246.93 C170.57 248.94 171.41 250.93 172.24 252.88 C173.08 254.83 173.91 256.75 174.75 258.62 C175.58 260.49 176.42 262.33 177.25 264.12 C178.09 265.90 178.92 267.65 179.76 269.33 C180.59 271.01 181.43 272.65 182.26 274.20 C183.10 275.76 183.93 277.26 184.77 278.68 C185.60 280.10 186.44 281.45 187.27 282.71 C188.11 283.96 188.94 285.15 189.78 286.23 C190.61 287.31 191.45 288.29 192.28 289.19 C193.12 290.08 193.96 290.88 194.79 291.60 C195.63 292.32 196.46 292.95 197.30 293.51 C198.13 294.08 198.97 294.57 199.80 295.00 C200.64 295.44 201.47 295.80 202.31 296.13 C203.14 296.45 203.98 296.72 204.81 296.95 C205.65 297.19 206.48 297.38 207.32 297.54 C208.15 297.71 208.99 297.83 209.82 297.94 C210.66 298.04 211.49 298.12 212.33 298.17 C213.16 298.23 214.00 298.26 214.83 298.27 C215.67 298.28 216.50 298.28 217.34 298.26 C218.17 298.24 219.01 298.20 219.84 298.16 C220.68 298.12 221.51 298.07 222.35 298.01 C223.18 297.96 224.02 297.89 224.85 297.83 C225.69 297.77 226.52 297.71 227.36 297.65 C228.19 297.60 229.03 297.55 229.86 297.49 C230.70 297.43 231.53 297.37 232.37 297.30 C233.20 297.23 234.04 297.15 234.87 297.06 C235.71 296.96 236.54 296.86 237.38 296.72 C238.21 296.59 239.05 296.45 239.88 296.26 C240.72 296.08 241.55 295.88 242.39 295.64 C243.22 295.40 244.06 295.13 244.89 294.82 C245.73 294.51 246.56 294.16 247.40 293.76 C248.23 293.36 249.07 292.92 249.90 292.44 C250.74 291.95 251.57 291.42 252.41 290.85 C253.24 290.27 254.08 289.66 254.91 289.01 C255.75 288.36 256.58 287.67 257.42 286.95 C258.25 286.22 259.09 285.46 259.92 284.68 C260.76 283.89 261.59 283.07 262.43 282.22 C263.27 281.37 264.10 280.49 264.94 279.59 C265.77 278.69 266.61 277.77 267.44 276.82 C268.28 275.87 269.11 274.90 269.95 273.92 C270.78 272.93 271.62 271.93 272.45 270.91 C273.29 269.89 274.12 268.85 274.96 267.81 C275.79 266.76 276.63 265.70 277.46 264.64 C278.30 263.57 279.13 262.50 279.97 261.42 C280.80 260.34 281.64 259.25 282.47 258.17 C283.31 257.08 284.14 255.99 284.98 254.92 C285.81 253.85 286.65 252.77 287.48 251.74 C288.32 250.70 289.15 249.67 289.99 248.69 C290.82 247.71 291.66 246.75 292.49 245.85 C293.33 244.95 294.16 244.09 295.00 243.29 C295.83 242.49 296.67 241.74 297.50 241.07 C298.34 240.40 299.17 239.79 300.01 239.26 C300.84 238.73 301.68 238.27 302.51 237.89 C303.35 237.51 304.18 237.20 305.02 236.97 C305.85 236.75 306.69 236.59 307.52 236.52 C308.36 236.46 309.19 236.46 310.03 236.56 C310.86 236.65 311.70 236.83 312.53 237.09 C313.37 237.35 314.20 237.70 315.04 238.13 C315.87 238.56 316.71 239.08 317.54 239.68 C318.38 240.28 319.21 240.96 320.05 241.72 C320.88 242.48 321.72 243.32 322.55 244.23 C323.39 245.14 324.22 246.13 325.06 247.19 C325.89 248.24 326.73 249.37 327.56 250.57 C328.40 251.76 329.23 253.03 330.07 254.35 C330.91 255.67 331.74 257.08 332.58 258.49 C333.41 259.89 334.25 261.36 335.08 262.78 C335.92 264.21 336.75 265.66 337.59 267.03 C338.42 268.40 339.26 269.76 340.09 271.01 C340.93 272.26 341.76 273.44 342.60 274.51 C343.43 275.59 344.27 276.57 345.10 277.47 C345.94 278.36 346.77 279.17 347.61 279.88 C348.44 280.60 349.28 281.23 350.11 281.77 C350.95 282.31 351.78 282.77 352.62 283.14 C353.45 283.51 354.29 283.79 355.12 284.00 C355.96 284.21 356.79 284.32 357.63 284.37 C358.46 284.42 359.30 284.37 360.13 284.29 C360.97 284.21 361.80 284.05 362.64 283.87 C363.47 283.69 364.31 283.45 365.14 283.22 C365.98 282.98 366.81 282.71 367.65 282.46 C368.48 282.21 369.32 281.93 370.15 281.70 C370.99 281.47 371.82 281.24 372.66 281.06 C373.49 280.89 374.33 280.73 375.16 280.65 C376.00 280.58 376.83 280.55 377.67 280.59 C378.50 280.64 379.34 280.76 380.17 280.93 C381.01 281.09 381.84 281.33 382.68 281.59 C383.51 281.86 384.35 282.18 385.18 282.51 C386.02 282.85 386.85 283.22 387.69 283.60 C388.52 283.98 389.36 284.39 390.19 284.78 C391.03 285.18 391.86 285.59 392.70 285.98 C393.53 286.37 394.37 286.76 395.20 287.11 C396.04 287.47 396.87 287.80 397.71 288.12 C398.54 288.44 399.38 288.73 400.22 289.01 C401.05 289.29 401.89 289.55 402.72 289.80 C403.56 290.05 404.39 290.28 405.23 290.51 C406.06 290.74 406.90 290.95 407.73 291.16 C408.57 291.37 409.40 291.57 410.24 291.77 C411.07 291.96 411.91 292.15 412.74 292.35 C413.58 292.54 414.41 292.73 415.25 292.92 C416.08 293.11 416.92 293.30 417.75 293.49 C418.59 293.68 419.42 293.88 420.26 294.08 C421.09 294.28 421.93 294.49 422.76 294.71 C423.60 294.92 424.43 295.14 425.27 295.38 C426.10 295.61 426.94 295.85 427.77 296.11 C428.61 296.36 429.44 296.63 430.28 296.91 C431.11 297.20 431.95 297.49 432.78 297.81 C433.62 298.12 434.45 298.45 435.29 298.81 C436.12 299.16 436.96 299.53 437.79 299.92 C438.63 300.32 439.46 300.73 440.30 301.17 C441.13 301.61 441.97 302.07 442.80 302.56 C443.64 303.05 444.47 303.57 445.31 304.12 C446.14 304.66 446.98 305.24 447.81 305.84 C448.65 306.45 449.48 307.09 450.32 307.76 C451.15 308.43 451.99 309.14 452.82 309.88 C453.66 310.63 454.49 311.42 455.33 312.25 C456.16 313.08 457.00 313.96 457.83 314.89 C458.67 315.82 459.50 316.80 460.34 317.85 C461.17 318.89 462.01 319.98 462.84 321.15 C463.68 322.31 464.51 323.54 465.35 324.84 C466.18 326.13 467.02 327.50 467.85 328.94 C468.69 330.38 469.53 331.92 470.36 333.48 C471.20 335.05 472.03 336.69 472.87 338.31 C473.70 339.92 474.54 341.58 475.37 343.16 C476.21 344.74 477.04 346.32 477.88 347.79 C478.71 349.26 479.55 350.67 480.38 351.97 C481.22 353.26 482.05 354.48 482.89 355.58 C483.72 356.68 484.56 357.69 485.39 358.59 C486.23 359.48 487.06 360.27 487.90 360.94 C488.73 361.61 489.57 362.17 490.40 362.60 C491.24 363.03 492.07 363.32 492.91 363.52 C493.74 363.71 494.58 363.75 495.41 363.74 C496.25 363.73 497.08 363.60 497.92 363.45 C498.75 363.29 499.59 363.05 500.42 362.81 C501.26 362.58 502.09 362.28 502.93 362.02 C503.76 361.76 504.60 361.50 505.43 361.26 C506.27 361.02 507.10 360.80 507.94 360.59 C508.77 360.38 509.61 360.20 510.44 360.02 C511.28 359.85 512.11 359.69 512.95 359.55 C513.78 359.41 514.62 359.28 515.45 359.17 C516.29 359.06 517.12 358.96 517.96 358.88 C518.79 358.80 519.63 358.73 520.46 358.68 C521.30 358.62 522.13 358.58 522.97 358.55 C523.80 358.53 524.64 358.51 525.47 358.51 C526.31 358.51 527.14 358.52 527.98 358.54 C528.81 358.56 529.65 358.59 530.48 358.64 C531.32 358.68 532.15 358.74 532.99 358.81 C533.82 358.87 534.66 358.95 535.49 359.04 C536.33 359.12 537.58 359.28 538.00 359.33" fill="none" stroke="#0a6fbe" stroke-width="1.65" stroke-linejoin="round"/>
<rect x="438.5" y="24.5" width="91" height="27.7" fill="#ffffff" stroke="#555" stroke-width="0.9"/>
<rect x="443.2" y="28" width="33.2" height="8" fill="#cce3f2"/>
<line x1="443.2" y1="44" x2="476.4" y2="44" stroke="#0a6fbe" stroke-width="1.8"/>
<text x="480" y="34.5" class="lg" textLength="43.8" lengthAdjust="spacingAndGlyphs">Boundary</text>
<text x="479.9" y="46.5" class="lg" textLength="37.8" lengthAdjust="spacingAndGlyphs">Average</text>
<text y="430" class="ax"><tspan x="231.2" textLength="50.8" lengthAdjust="spacingAndGlyphs">Percent</tspan> <tspan x="286.5" textLength="14.2" lengthAdjust="spacingAndGlyphs">of</tspan> <tspan x="304.1" textLength="29.4" lengthAdjust="spacingAndGlyphs">Gait</tspan> <tspan x="338.2" textLength="23.2" lengthAdjust="spacingAndGlyphs">(%)</tspan></text>
<text transform="translate(18.5 338.9) rotate(-90)" class="ax"><tspan x="-0.3" textLength="34.4" lengthAdjust="spacingAndGlyphs">Knee</tspan> <tspan x="38.9" textLength="57.8" lengthAdjust="spacingAndGlyphs">Moment</tspan> <tspan x="100.5" textLength="22.8" lengthAdjust="spacingAndGlyphs">per</tspan> <tspan x="127.2" textLength="36.1" lengthAdjust="spacingAndGlyphs">Body</tspan> <tspan x="167.2" textLength="36.1" lengthAdjust="spacingAndGlyphs">Mass</tspan> <tspan x="207.6" textLength="59" lengthAdjust="spacingAndGlyphs">(Nm/kg)</tspan></text>
</svg>
</body></html>
